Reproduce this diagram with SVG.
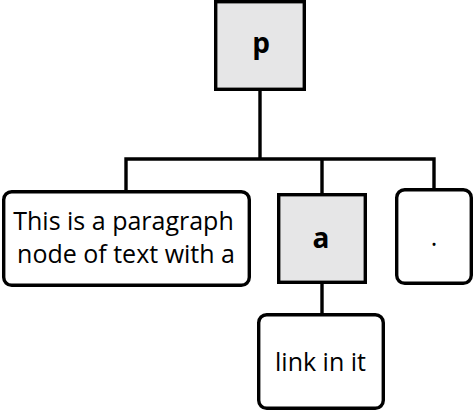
<svg xmlns="http://www.w3.org/2000/svg" width="474" height="411" viewBox="0 0 474 411">
<style>
.box{fill:#ffffff;stroke:#000;stroke-width:3.4}
.el{fill:#e6e6e7;stroke:#000;stroke-width:3.4}
.conn{fill:none;stroke:#000;stroke-width:3.4}
.t{font-family:"Open Sans","Liberation Sans",sans-serif;font-size:25px;fill:#000;text-anchor:middle}
.b{font-family:"Open Sans","Liberation Sans",sans-serif;font-size:28px;font-weight:bold;fill:#000;text-anchor:middle}
</style>
<rect width="474" height="411" fill="#fff"/>
<g id="connectors">
<path class="conn" d="M260 90 V159 M124.3 159 H435.7 M126 159 V190 M322 159 V193 M434 159 V188 M322 284 V313"/>
</g>
<g id="node-p">
<rect class="el" x="215.7" y="1.7" width="88.6" height="87.6"/>
<text class="b" x="261" y="53">p</text>
</g>
<g id="node-text">
<rect class="box" x="3.7" y="191.7" width="245.6" height="93.6" rx="8"/>
<text class="t" x="123.5" y="230">This is a paragraph</text>
<text class="t" x="126" y="263">node of text with a</text>
</g>
<g id="node-a">
<rect class="el" x="278.7" y="194.7" width="86.6" height="87.6"/>
<text class="b" x="321" y="248">a</text>
</g>
<g id="node-dot">
<rect class="box" x="396.7" y="189.7" width="74.6" height="93.6" rx="8"/>
<text class="t" x="434" y="246">.</text>
</g>
<g id="node-link">
<rect class="box" x="258.7" y="314.7" width="124.6" height="93.6" rx="8"/>
<text class="t" x="320.5" y="371">link in it</text>
</g>
</svg>
